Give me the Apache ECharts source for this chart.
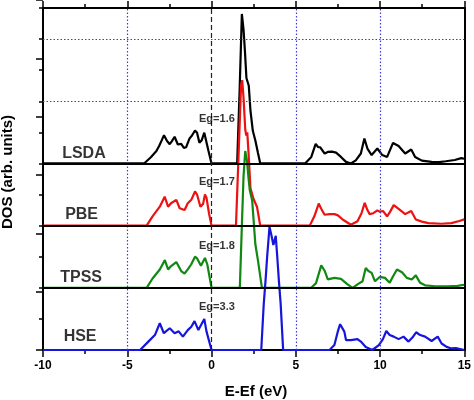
<!DOCTYPE html>
<html>
<head>
<meta charset="utf-8">
<script src="https://cdn.jsdelivr.net/npm/echarts@6/dist/echarts.min.js"></script>
<style>html,body{margin:0;padding:0;background:#fff}#c{width:474px;height:400px}</style>
</head>
<body>
<div id="c"></div>
<script>
// ---- data (x = E-Ef in eV, value = DOS relative to panel baseline) ----
const panelNames = ['LSDA', 'PBE', 'TPSS', 'HSE'];
const panelOffsets = [6, 4, 2, 0];
const panelColors = ['#000000', '#ee1111', '#118811', '#1515dd'];
const gapLabels = ['Eg=1.6', 'Eg=1.7', 'Eg=1.8', 'Eg=3.3'];
const xTickLabels = [-10, -5, 0, 5, 10, 15];

const dosLSDA = [[-10,0],[-4.0,0],[-3.6,0.2],[-3.27,0.4],[-3.11,0.56],[-2.95,0.75],[-2.82,0.91],[-2.64,0.72],[-2.48,0.62],[-2.35,0.72],[-2.19,0.86],[-2.0,0.61],[-1.8,0.63],[-1.64,0.5],[-1.51,0.52],[-1.31,0.8],[-1.16,0.9],[-0.98,1.06],[-0.86,0.99],[-0.72,0.67],[-0.58,0.75],[-0.43,0.99],[-0.33,0.95],[-0.18,0.4],[0,0],
  [1.52,0],[1.67,2.4],[1.8,4.81],[1.9,4.3],[1.98,3.63],[2.07,2.75],[2.14,2.8],[2.21,2.5],[2.31,1.7],[2.45,1.05],[2.6,0.74],[2.75,0.35],[2.89,0],
  [5.55,0],[5.92,0.21],[6.18,0.63],[6.32,0.53],[6.45,0.52],[6.71,0.32],[6.9,0.37],[7.15,0.38],[7.39,0.35],[7.68,0.21],[7.98,0.05],[8.27,0],[8.56,0.1],[8.86,0.32],[9.07,0.8],[9.25,0.48],[9.5,0.27],[9.84,0.48],[10.13,0.27],[10.42,0.21],[10.77,0.66],[11.1,0.56],[11.49,0.32],[11.85,0.45],[12.08,0.21],[12.48,0.09],[13.06,0.05],[13.5,0.04],[13.9,0.07],[14.43,0.11],[14.82,0.17],[15,0.15]];

const dosPBE = [[-10,0],[-3.85,0],[-3.5,0.3],[-3.07,0.61],[-2.78,0.93],[-2.58,0.61],[-2.4,0.72],[-2.09,0.83],[-1.89,0.56],[-1.6,0.5],[-1.41,0.72],[-1.2,0.83],[-0.98,1.1],[-0.86,1.0],[-0.66,0.61],[-0.5,0.7],[-0.39,1.0],[-0.3,0.9],[-0.15,0.4],[0,0],
  [1.45,0],[1.6,2.2],[1.75,4.5],[1.82,4.68],[1.9,4.1],[2.0,3.1],[2.06,2.9],[2.12,3.0],[2.2,2.3],[2.31,1.2],[2.5,0.85],[2.7,0.6],[2.89,0],
  [5.83,0],[6.1,0.3],[6.36,0.71],[6.5,0.55],[6.71,0.35],[7.0,0.37],[7.3,0.37],[7.5,0.33],[7.8,0.19],[8.27,0.03],[8.66,0.14],[8.9,0.4],[9.09,0.73],[9.25,0.5],[9.38,0.37],[9.6,0.4],[9.84,0.49],[10.0,0.45],[10.17,0.47],[10.42,0.3],[10.6,0.45],[10.81,0.66],[11.14,0.52],[11.49,0.37],[11.85,0.47],[12.12,0.2],[12.48,0.13],[12.87,0.08],[13.65,0.06],[14.23,0.08],[14.7,0.15],[15,0.2]];

const dosTPSS = [[-10,0],[-3.85,0],[-3.5,0.3],[-3.07,0.59],[-2.77,0.89],[-2.58,0.59],[-2.4,0.7],[-2.09,0.83],[-1.8,0.54],[-1.6,0.46],[-1.4,0.6],[-1.21,0.75],[-0.98,1.0],[-0.86,0.95],[-0.63,0.71],[-0.39,0.96],[-0.25,0.75],[0,0],
  [1.68,0],[1.8,2.0],[1.9,3.6],[2.0,4.4],[2.1,4.1],[2.2,3.5],[2.27,3.14],[2.35,3.2],[2.41,2.82],[2.6,1.4],[2.75,0.9],[2.99,0],
  [5.92,0],[6.2,0.15],[6.51,0.72],[6.71,0.55],[6.9,0.27],[7.29,0.32],[7.68,0.29],[8.07,0.11],[8.37,0],[8.66,0.11],[8.96,0.21],[9.15,0.64],[9.31,0.54],[9.5,0.48],[9.7,0.21],[9.98,0.35],[10.29,0.32],[10.57,0.16],[10.75,0.35],[11.0,0.59],[11.3,0.5],[11.59,0.32],[11.88,0.27],[12.12,0.4],[12.38,0.16],[12.67,0.08],[13.26,0.05],[14.0,0.05],[14.6,0.06],[15,0.1]];

const dosHSE = [[-10,0],[-4.24,0],[-3.75,0.27],[-3.36,0.48],[-3.07,0.86],[-2.83,0.54],[-2.48,0.7],[-2.19,0.54],[-1.95,0.6],[-1.7,0.43],[-1.41,0.64],[-1.2,0.75],[-1.01,0.93],[-0.78,0.64],[-0.43,1.0],[-0.3,0.6],[0,0],
  [2.95,0],[3.1,1.5],[3.2,2.2],[3.3,3.0],[3.44,3.96],[3.55,3.7],[3.67,3.38],[3.81,3.67],[3.9,3.0],[4.0,2.2],[4.1,1.5],[4.25,0],
  [7.0,0],[7.29,0.16],[7.49,0.59],[7.63,0.83],[7.88,0.59],[7.98,0.32],[8.27,0.32],[8.66,0.35],[8.86,0.27],[9.15,0.1],[9.54,0],[9.93,0.16],[10.17,0.35],[10.37,0.61],[10.57,0.48],[10.81,0.43],[11.1,0.35],[11.39,0.43],[11.69,0.27],[11.92,0.4],[12.14,0.57],[12.38,0.48],[12.67,0.43],[13.06,0.29],[13.42,0.43],[13.65,0.21],[13.95,0.1],[14.23,0.05],[14.5,0.06],[15,0]];

const panelData = [dosLSDA, dosPBE, dosTPSS, dosHSE];
const gridX = [-5, 5, 10];
const gridY = [8, 10];
const nameLabelPos = [[-7.57, 0.33], [-7.71, 0.34], [-7.74, 0.33], [-7.8, 0.44]];
const gapLabelPos = [[0.32, 1.42], [0.32, 1.39], [0.32, 1.34], [0.32, 1.37]];

// ---- chart ----
const FONT = '"Liberation Sans", Arial, sans-serif';
const chart = echarts.init(document.getElementById('c'), null, {renderer: 'canvas'});
const black = '#000';
const H = 342;
const dotStyle = {color: '#3c3cdc', type: [1.5, 2], width: 1.2, opacity: 1};

const series = [];
panelData.forEach((d, i) => {
  series.push({
    type: 'line', xAxisIndex: 0, yAxisIndex: 0, z: 3,
    data: d.map(p => [p[0], p[1] + panelOffsets[i]]),
    showSymbol: false, symbol: 'none',
    lineStyle: {color: panelColors[i], width: 2.2},
    silent: true
  });
});
// guide lines
series.push({
  type: 'line', xAxisIndex: 0, yAxisIndex: 0, z: 2, data: [], silent: true,
  itemStyle: {color: '#3c3cdc'}, lineStyle: {color: '#3c3cdc'},
  markLine: {
    silent: true, symbol: 'none', label: {show: false}, animation: false,
    data: gridX.map(v => ({xAxis: v, lineStyle: dotStyle})).concat(gridY.map(v => ({yAxis: v, lineStyle: dotStyle}))),
    lineStyle: dotStyle
  }
});
series.push({
  type: 'line', xAxisIndex: 0, yAxisIndex: 0, z: 6, data: [], silent: true,
  itemStyle: {color: black}, lineStyle: {color: black},
  markLine: {
    silent: true, symbol: 'none', label: {show: false}, animation: false,
    data: panelOffsets.filter(v => v > 0).map(v => ({yAxis: v, lineStyle: {color: black, width: 2, type: 'solid'}}))
      .concat([{xAxis: 0, lineStyle: {color: '#222', width: 1.2, type: [5, 3]}}])
  }
});
// panel labels
series.push({
  type: 'scatter', xAxisIndex: 0, yAxisIndex: 0, z: 8, symbolSize: 1, silent: true,
  itemStyle: {color: 'rgba(0,0,0,0)'},
  data: panelNames.map((n, i) => [nameLabelPos[i][0], nameLabelPos[i][1] + panelOffsets[i], n]),
  label: {show: true, position: 'inside', formatter: p => p.data[2], color: black, fontWeight: 'bold', fontSize: 16, fontFamily: FONT}
});
series.push({
  type: 'scatter', xAxisIndex: 0, yAxisIndex: 0, z: 8, symbolSize: 1, silent: true,
  itemStyle: {color: 'rgba(0,0,0,0)'},
  data: gapLabels.map((n, i) => [gapLabelPos[i][0], gapLabelPos[i][1] + panelOffsets[i], n]),
  label: {show: true, position: 'inside', formatter: p => p.data[2], color: black, fontWeight: 'bold', fontSize: 11, fontFamily: FONT}
});

const xCommon = {
  type: 'value', gridIndex: 0, min: -10, max: 15, interval: 5,
  axisLine: {show: true, onZero: false, lineStyle: {color: black, width: 2}},
  axisTick: {show: true, inside: false, length: 7, lineStyle: {color: black, width: 1.5}},
  minorTick: {show: true, splitNumber: 2, length: 4, lineStyle: {color: black, width: 1.5}},
  splitLine: {show: false}
};

chart.setOption({
  animation: false,
  textStyle: {fontFamily: FONT},
  grid: [
    {left: 43, right: 5, top: 8, bottom: 50},
    {left: 43, right: 5, top: 8 - H / 11, bottom: 50}
  ],
  xAxis: [
    Object.assign({}, xCommon, {position: 'bottom',
      axisLabel: {show: true, color: black, fontWeight: 'bold', fontSize: 12, fontFamily: FONT, margin: 10,
        formatter: v => xTickLabels.includes(v) ? String(v) : ''}}),
    Object.assign({}, xCommon, {position: 'top', axisLabel: {show: false}}),
    {type: 'value', gridIndex: 1, min: -10, max: 15, show: false, axisLine: {onZero: false}}
  ],
  yAxis: [
    {type: 'value', gridIndex: 0, min: 0, max: 11, interval: 1, position: 'left',
      axisLine: {show: true, onZero: false, lineStyle: {color: black, width: 2}},
      axisTick: {show: true, inside: false, length: 4, lineStyle: {color: black, width: 1.5}},
      axisLabel: {show: false}, splitLine: {show: false}},
    {type: 'value', gridIndex: 0, min: 0, max: 11, position: 'right',
      axisLine: {show: true, onZero: false, lineStyle: {color: black, width: 2}},
      axisTick: {show: false}, axisLabel: {show: false}, splitLine: {show: false}},
    {type: 'value', gridIndex: 1, min: 0, max: 12, interval: 2, position: 'left',
      axisLine: {show: false, onZero: false},
      axisTick: {show: true, inside: false, length: 7, lineStyle: {color: black, width: 1.5}},
      axisLabel: {show: false}, splitLine: {show: false}}
  ],
  graphic: [
    {type: 'text', x: 256, y: 392, style: {text: 'E-Ef (eV)', fill: black, font: 'bold 15px ' + FONT, align: 'center', verticalAlign: 'middle'}},
    {type: 'text', x: 8, y: 172, rotation: Math.PI / 2, style: {text: 'DOS (arb. units)', fill: black, font: 'bold 15px ' + FONT, align: 'center', verticalAlign: 'middle'}}
  ],
  series: series
});
</script>
</body>
</html>
